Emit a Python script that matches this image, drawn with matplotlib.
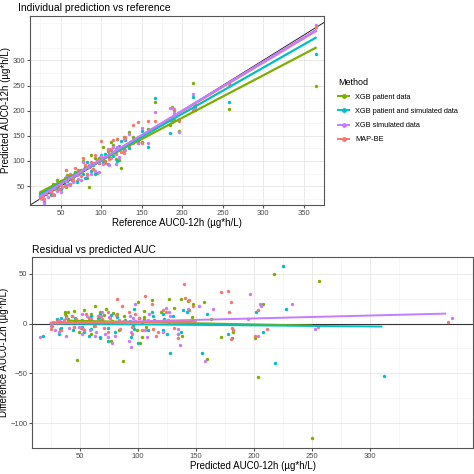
import numpy as np
import matplotlib.pyplot as plt
from matplotlib.lines import Line2D

plt.rcParams['font.family'] = ['Liberation Sans', 'DejaVu Sans']

methods = ['XGB patient data', 'XGB patient and simulated data', 'XGB simulated data', 'MAP-BE']
colors = ['#7CAE00', '#00BFC4', '#C77CFF', '#F8766D']

ref = np.array([25, 27, 28, 30, 32, 35, 38, 40, 42, 45, 48, 50, 52, 55, 57, 58, 60, 62, 64, 65,
                68, 70, 72, 75, 78, 80, 82, 85, 88, 90, 92, 95, 98, 100, 102, 105, 108, 110, 112, 115,
                118, 120, 122, 125, 128, 130, 135, 140, 145, 150, 158, 167, 185, 188, 190, 196, 213, 216, 258, 365])

dev_green = [12, 10, 12, 8, 13, 5, -5, 14, 3, 18, -3, 10, 6, 12, -8, 15, 7, 9, -2, 4, 11, -10, 10, 3, 22, 8, -15, -37, 24, -6,
             13, -18, 7, 5, 25, -6, 12, -3, 25, 16, -14, 23, -20, -38, 20, 14, 22, 7, -10, -12, 5, 50, -13, 20, -8, -36, 43, -15, -54, -115]
dev_cyan = [5, 3, 6, -12, 2, 8, -4, 6, -10, 2, 4, -6, 8, -3, 10, 2, 6, -8, 3, -5, 9, -12, 2, 7, -4, -13, 15, 4, -8, 3,
            -18, 6, -2, 12, -5, 8, -14, 4, 10, -6, 5, -20, 8, 14, -6, 12, -10, 2, -8, 10, -30, 58, -30, -10, 12, -15, 15, -8, -40, -53]
dev_purple = [2, -2, 4, -14, 6, -6, 3, -8, 10, -4, 8, -12, -3, 5, 12, -5, 8, -10, 4, -6, 7, 2, -8, -12, 20, 4, -10, 8, -14, 6,
              -12, 3, -20, 10, -8, 4, 16, -18, -6, 12, -24, 8, -14, 2, 15, -8, 18, -5, -10, 15, -22, 30, 20, 18, 5, -38, 20, -12, -5, 6]
dev_red = [1, 3, -2, -5, 4, 8, 2, -6, 5, 10, -3, 2, 6, -4, 25, 8, -6, 12, 5, -2, 18, 6, 9, -4, 28, 12, -8, 3, 10, -5,
           20, 6, -3, 40, 2, -10, 14, -6, 12, 26, -5, 24, 4, -8, -12, 18, -4, 32, 33, -15, 22, 12, -4, -6, 14, -16, -12, -5, -3, 2]
devs = [dev_green, dev_cyan, dev_purple, dev_red]

# fitted lines (start, end)
fit_x = [25, 365]
fit_y = [[38, 325], [33, 345], [30, 360], [30, 358]]
res_x = [[40, 250], [25, 310], [25, 365], [25, 150]]
res_y = [[3, -2], [0, -3], [0, 10], [1, 2]]

fig = plt.figure(figsize=(4.74, 4.74), dpi=100)
ax1 = fig.add_axes([0.063, 0.567, 0.62, 0.40])
ax2 = fig.add_axes([0.068, 0.055, 0.93, 0.403])

for ax in (ax1, ax2):
    ax.set_axisbelow(True)
    ax.grid(True, which='major', color='#e5e5e5', lw=0.6)
    ax.grid(True, which='minor', color='#f2f2f2', lw=0.4)
    for s in ax.spines.values():
        s.set_color('#555555')
    ax.tick_params(labelsize=5.5, colors='#555555', length=2, pad=1.5, labelcolor='#4d4d4d')

ax1.plot([0, 400], [0, 400], color='#222222', lw=0.7)
for d, c in zip(devs, colors):
    pred = ref + np.array(d)
    ax1.scatter(ref, pred, s=6, color=c, lw=0, zorder=3)
for i in [3, 0, 1, 2]:
    ax1.plot(fit_x, fit_y[i], color=colors[i], lw=1.6, zorder=4)
ax1.set_xlim(12, 372)
ax1.set_ylim(12, 389)
ax1.set_xticks(range(50, 351, 50))
ax1.set_yticks(range(50, 301, 50))
ax1.set_xticks(range(25, 376, 50), minor=True)
ax1.set_yticks(range(25, 376, 50), minor=True)
ax1.tick_params(which='minor', length=0)
ax1.set_xlabel('Reference AUC0-12h (µg*h/L)', fontsize=7, labelpad=1)
ax1.set_ylabel('Predicted AUC0-12h (µg*h/L)', fontsize=7, labelpad=1)
ax1.set_title('Individual prediction vs reference', fontsize=7.5, loc='left', x=-0.04, pad=3)

ax2.axhline(0, color='#333333', lw=0.8)
for d, c in zip(devs, colors):
    pred = ref + np.array(d)
    ax2.scatter(pred, d, s=6, color=c, lw=0, zorder=3)
for rx, ry, c in zip(res_x, res_y, colors):
    ax2.plot(rx, ry, color=c, lw=1.4, zorder=4)
ax2.set_xlim(9, 389)
ax2.set_ylim(-123, 67)
ax2.set_xticks(range(50, 301, 50))
ax2.set_yticks([-100, -50, 0, 50])
ax2.set_xticks(range(25, 376, 50), minor=True)
ax2.set_yticks([-125, -75, -25, 25], minor=True)
ax2.tick_params(which='minor', length=0)
ax2.set_xlabel('Predicted AUC0-12h (µg*h/L)', fontsize=7, labelpad=1)
ax2.set_ylabel('Difference AUC0-12h (µg*h/L)', fontsize=7, labelpad=1)
ax2.set_title('Residual vs predicted AUC', fontsize=7.5, loc='left', x=0.0, pad=3)

handles = [Line2D([0], [0], color=c, lw=1.4, marker='o', ms=2.5) for c in colors]
leg = fig.legend(handles, methods, title='Method', loc='upper left', bbox_to_anchor=(0.70, 0.85),
                 frameon=False, fontsize=5.3, title_fontsize=6.5, handlelength=1.5, labelspacing=0.95)
leg._legend_box.align = 'left'

fig.savefig('out.png', dpi=100)
